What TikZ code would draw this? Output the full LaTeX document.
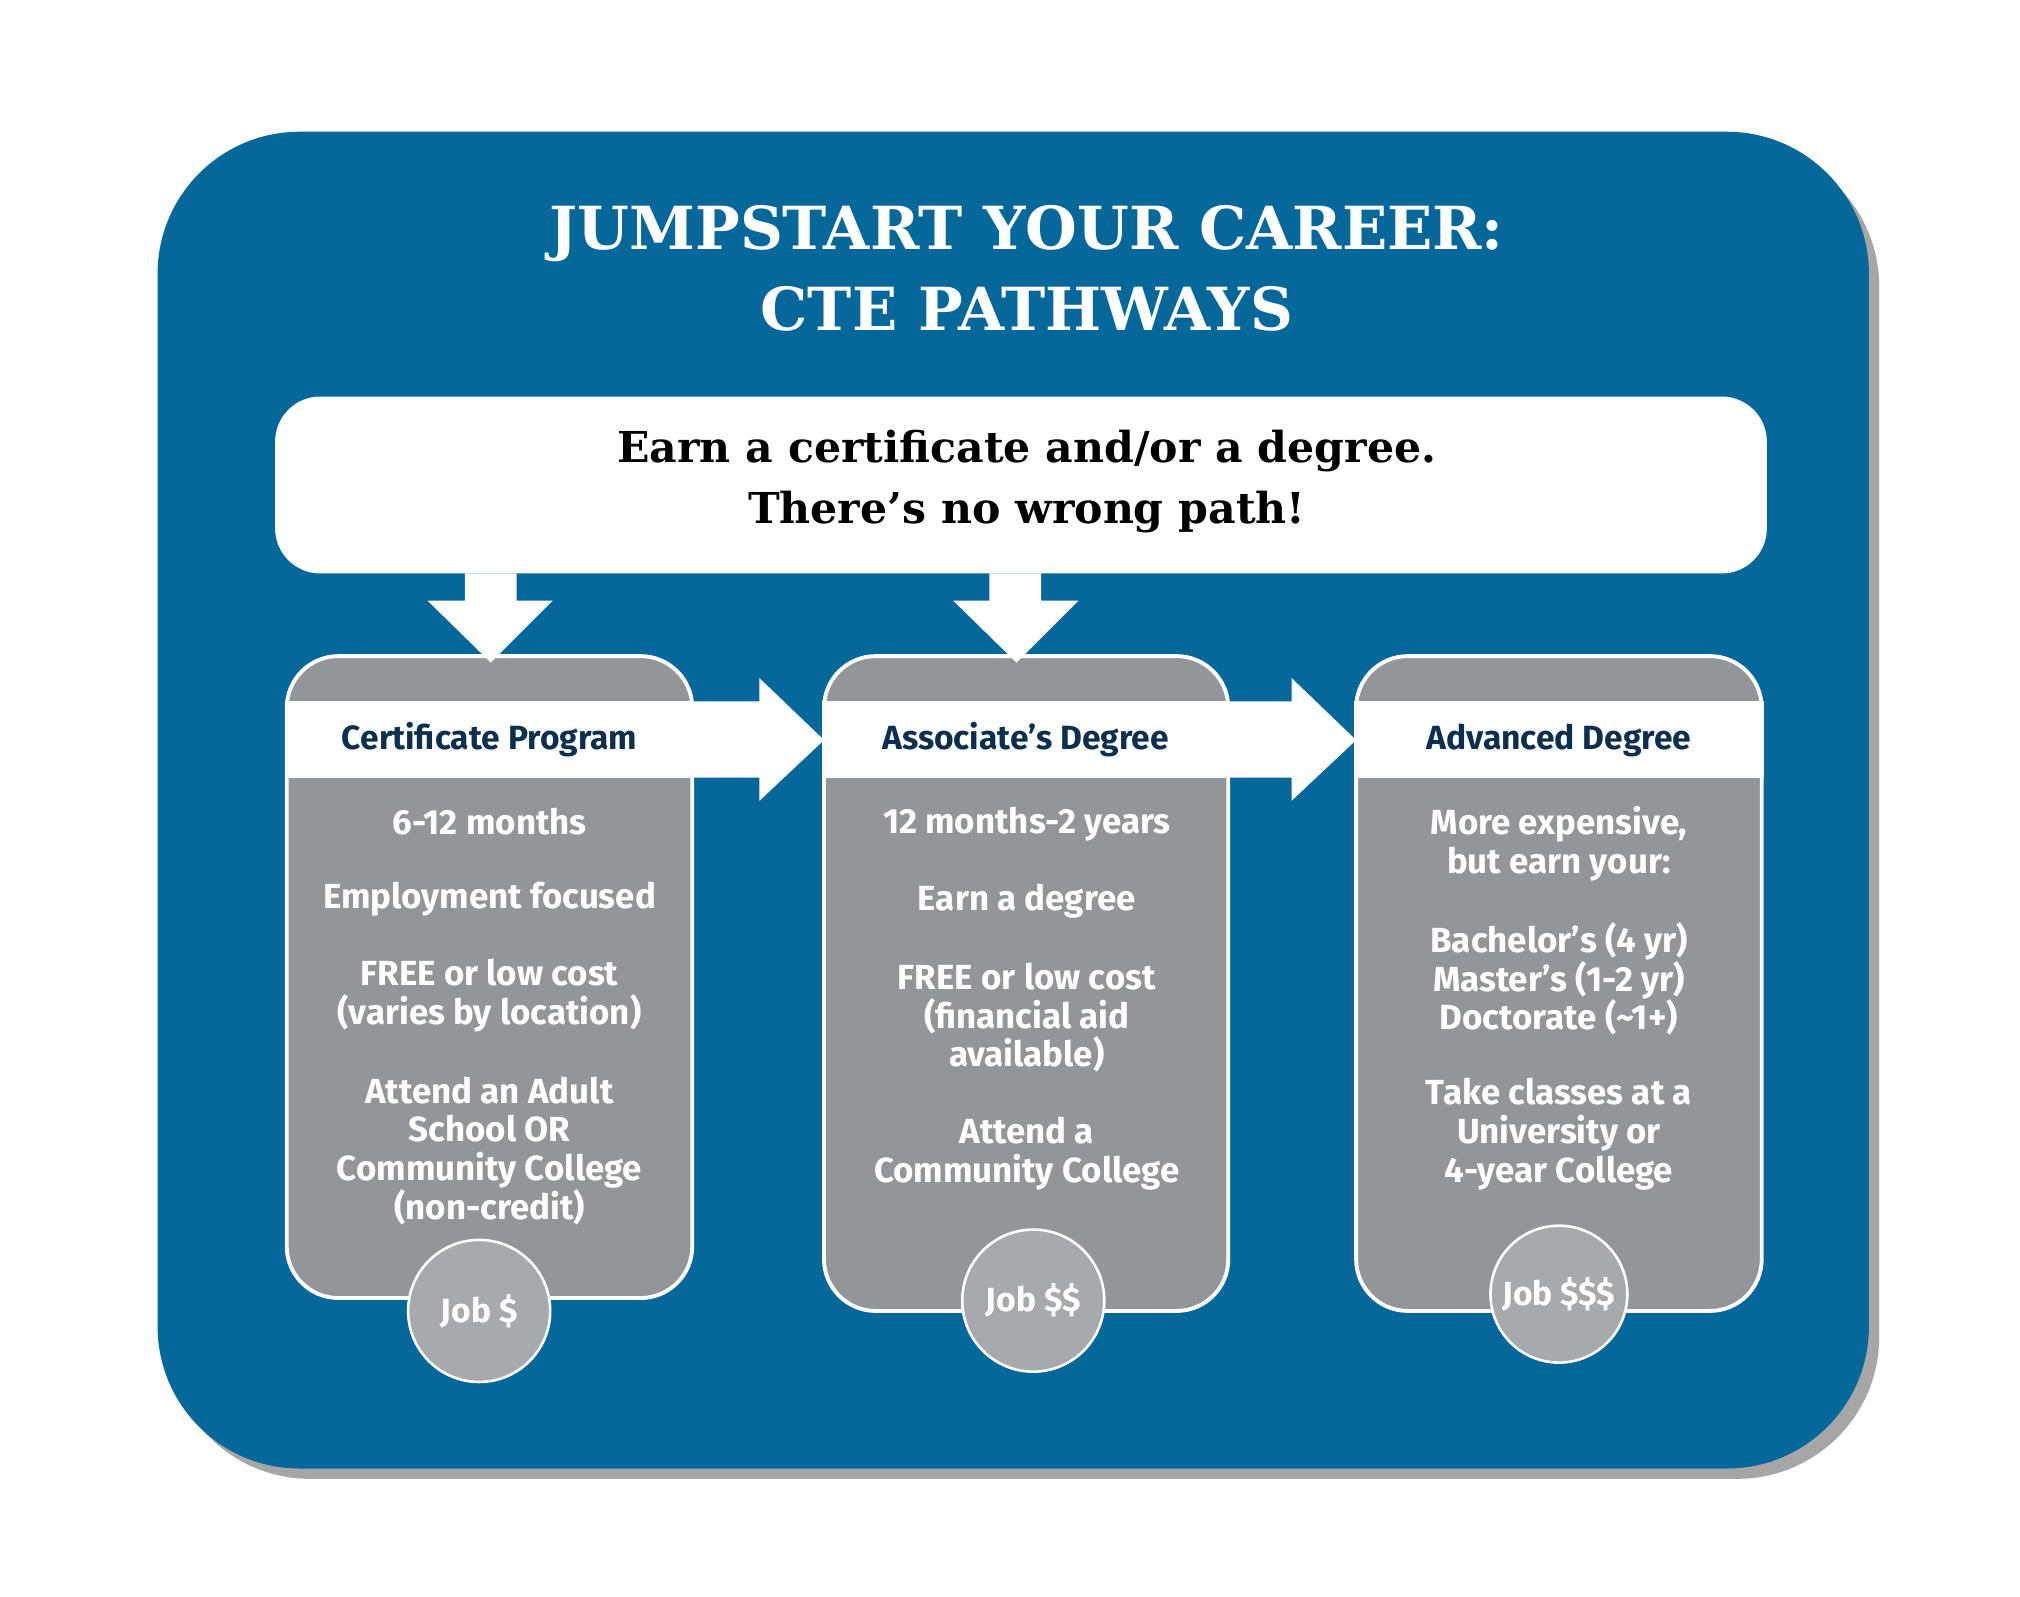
\documentclass[tikz,border=0pt]{standalone}
\usepackage{fontspec}
\setmainfont{Fira Sans}
\newfontfamily\slab{DejaVu Serif}
\definecolor{bluebg}{HTML}{05679A}
\definecolor{boxgray}{HTML}{939598}
\definecolor{circgray}{HTML}{A7A9AC}
\definecolor{navy}{HTML}{0D2F4F}
\begin{document}
\begin{tikzpicture}[x=1pt,y=-1pt,
  pbox/.style={fill=boxgray,draw=white,line width=3pt,rounded corners=40pt},
  hdr/.style={text=navy,font=\fontsize{26}{30}\selectfont\bfseries},
  body/.style={text=white,font=\fontsize{27}{30}\selectfont\bfseries,align=center},
  job/.style={circle,fill=circgray,draw=white,line width=2pt,minimum size=110pt,text=white,font=\fontsize{26}{30}\selectfont\bfseries},
  warrow/.style={fill=white}]
\useasboundingbox (0,0) rectangle (1564,1236);
\fill[white] (0,0) rectangle (1564,1236);
% shadow
\fill[black!35,rounded corners=110pt] (130,112) rectangle (1455,1145);
\fill[bluebg,rounded corners=110pt] (122,102) rectangle (1447,1137);
% title
\node[text=white,font=\slab\fontsize{46}{63}\selectfont\bfseries,align=center] (title) at (795,208) {JUMPSTART YOUR CAREER:\\CTE PATHWAYS};
% banner
\node[fill=white,rounded corners=35pt,minimum width=1155pt,minimum height=137pt] (banner) at (790.5,375.5) {};
\node[font=\slab\fontsize{33}{47}\selectfont\bfseries,align=center] (bannertext) at (795,373) {Earn a certificate and/or a degree.\\There’s no wrong path!};
% boxes
\draw[pbox] (222,508) rectangle (536,1005);
\draw[pbox] (638,508) rectangle (951,1015);
\draw[pbox] (1050,508) rectangle (1364,1015);
\coordinate (b1) at (379,508);
\coordinate (b2) at (794,508);
% bands
\fill[white] (220.5,543) rectangle (537.5,602);
\fill[white] (636.5,543) rectangle (952.5,602);
\fill[white] (1048.5,543) rectangle (1365.5,602);
% right arrows
\fill[warrow] (536,543) -- (588,543) -- (588,525) -- (638,573) -- (588,620) -- (588,602) -- (536,602) -- cycle;
\fill[warrow] (951,543) -- (1000,543) -- (1000,525) -- (1050,573) -- (1000,620) -- (1000,602) -- (951,602) -- cycle;
% down arrows
\fill[warrow] (360,444) -- (400,444) -- (400,465) -- (428,465) -- (380,513) -- (331,465) -- (360,465) -- cycle;
\fill[warrow] (766,444) -- (806,444) -- (806,465) -- (835,465) -- (787,513) -- (738,465) -- (766,465) -- cycle;
% headers
\node[hdr] (h1) at (379,573) {Certificate Program};
\node[hdr] (h2) at (794,573) {Associate's Degree};
\node[hdr] (h3) at (1207,573) {Advanced Degree};
% body
\node[body] (t11) at (379,636) {6-12 months};
\node[body] (t12) at (379,696) {Employment focused};
\node[body] (t13) at (379,771) {FREE or low cost\\(varies by location)};
\node[body] (t14) at (379,891) {Attend an Adult\\School OR\\Community College\\(non-credit)};
\node[body] (t21) at (795,638) {12 months-2 years};
\node[body] (t22) at (795,698) {Earn a degree};
\node[body] (t23) at (795,788) {FREE or low cost\\(financial aid\\available)};
\node[body] (t24) at (795,893) {Attend a\\Community College};
\node[body] (t31) at (1207,653) {More expensive,\\but earn your:};
\node[body] (t32) at (1207,758) {Bachelor's (4 yr)\\Master's (1-2 yr)\\Doctorate (\textasciitilde1+)};
\node[body] (t33) at (1207,878) {Take classes at a\\University or\\4-year College};
% job circles
\node[job] (j1) at (371,1015) {Job \$};
\node[job] (j2) at (800,1007) {Job \$\$};
\node[job,minimum size=106pt] (j3) at (1207,1002) {Job \$\$\$};
\end{tikzpicture}
\end{document}
